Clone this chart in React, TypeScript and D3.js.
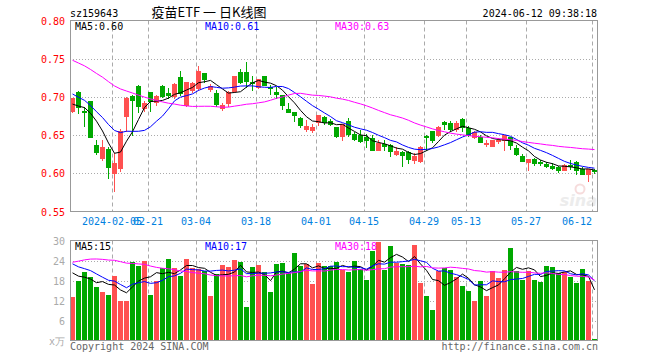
import React from 'react';
import * as d3 from 'd3';

// ---------- data ----------
const dates = [
  '2024-01-25','2024-01-26','2024-01-29','2024-01-30','2024-01-31',
  '2024-02-01','2024-02-02','2024-02-05','2024-02-06','2024-02-07','2024-02-08','2024-02-19','2024-02-20','2024-02-21','2024-02-22','2024-02-23','2024-02-26','2024-02-27','2024-02-28','2024-02-29',
  '2024-03-01','2024-03-04','2024-03-05','2024-03-06','2024-03-07','2024-03-08','2024-03-11','2024-03-12','2024-03-13','2024-03-14','2024-03-15','2024-03-18','2024-03-19','2024-03-20','2024-03-21','2024-03-22','2024-03-25','2024-03-26','2024-03-27','2024-03-28','2024-03-29',
  '2024-04-01','2024-04-02','2024-04-03','2024-04-08','2024-04-09','2024-04-10','2024-04-11','2024-04-12','2024-04-15','2024-04-16','2024-04-17','2024-04-18','2024-04-19','2024-04-22','2024-04-23','2024-04-24','2024-04-25','2024-04-26','2024-04-29','2024-04-30',
  '2024-05-06','2024-05-07','2024-05-08','2024-05-09','2024-05-10','2024-05-13','2024-05-14','2024-05-15','2024-05-16','2024-05-17','2024-05-20','2024-05-21','2024-05-22','2024-05-23','2024-05-24','2024-05-27','2024-05-28','2024-05-29','2024-05-30','2024-05-31',
  '2024-06-03','2024-06-04','2024-06-05','2024-06-06','2024-06-07','2024-06-11','2024-06-12',
];

const openP = [
  0.682,0.707,0.681,0.694,0.637,0.620,0.632,0.600,0.607,0.675,
  0.701,0.714,0.685,0.706,0.693,0.714,0.705,0.701,0.726,0.690,
  0.709,0.711,0.731,0.710,0.705,0.685,0.692,0.708,0.733,0.733,
  0.719,0.713,0.727,0.713,0.706,0.702,0.684,0.680,0.672,0.658,
  0.657,0.667,0.674,0.668,0.660,0.649,0.668,0.651,0.650,0.647,
  0.646,0.631,0.639,0.637,0.625,0.628,0.628,0.618,0.616,0.649,
  0.655,0.650,0.667,0.666,0.658,0.671,0.659,0.648,0.647,0.638,
  0.636,0.642,0.644,0.647,0.633,0.623,0.615,0.619,0.615,0.612,
  0.610,0.608,0.604,0.611,0.615,0.605,0.599,0.604,
];
const highP = [
  0.699,0.708,0.687,0.695,0.643,0.643,0.634,0.626,0.658,0.700,
  0.702,0.715,0.695,0.707,0.702,0.715,0.711,0.718,0.734,0.720,
  0.720,0.741,0.731,0.717,0.709,0.692,0.708,0.728,0.737,0.746,
  0.728,0.723,0.728,0.715,0.713,0.702,0.692,0.680,0.674,0.670,
  0.664,0.676,0.675,0.671,0.661,0.665,0.673,0.654,0.657,0.652,
  0.650,0.644,0.644,0.638,0.635,0.629,0.629,0.626,0.636,0.650,
  0.656,0.662,0.668,0.668,0.668,0.672,0.662,0.656,0.650,0.644,
  0.644,0.646,0.650,0.648,0.637,0.625,0.619,0.620,0.618,0.615,
  0.613,0.609,0.612,0.618,0.616,0.608,0.605,0.605,
];
const lowP = [
  0.680,0.679,0.662,0.647,0.625,0.618,0.594,0.577,0.603,0.655,
  0.650,0.680,0.682,0.681,0.689,0.700,0.699,0.699,0.703,0.688,
  0.706,0.709,0.719,0.708,0.688,0.683,0.688,0.706,0.718,0.713,
  0.709,0.711,0.715,0.704,0.699,0.684,0.680,0.668,0.660,0.655,
  0.654,0.663,0.665,0.663,0.648,0.644,0.649,0.643,0.641,0.635,
  0.630,0.630,0.631,0.622,0.624,0.609,0.614,0.613,0.615,0.631,
  0.641,0.649,0.658,0.656,0.656,0.655,0.649,0.646,0.641,0.636,
  0.636,0.640,0.631,0.632,0.624,0.616,0.604,0.611,0.611,0.608,
  0.605,0.602,0.604,0.606,0.599,0.599,0.590,0.601,
];
const closeP = [
  0.698,0.687,0.680,0.648,0.628,0.634,0.608,0.613,0.656,0.699,
  0.696,0.688,0.692,0.695,0.701,0.701,0.703,0.717,0.705,0.719,
  0.718,0.734,0.723,0.714,0.691,0.690,0.707,0.727,0.719,0.721,
  0.718,0.723,0.716,0.712,0.704,0.689,0.680,0.676,0.663,0.662,
  0.661,0.676,0.667,0.665,0.649,0.664,0.651,0.645,0.642,0.644,
  0.631,0.640,0.636,0.629,0.629,0.624,0.619,0.622,0.635,0.648,
  0.643,0.660,0.664,0.658,0.666,0.660,0.650,0.654,0.641,0.640,
  0.643,0.643,0.650,0.637,0.625,0.616,0.619,0.613,0.614,0.610,
  0.607,0.604,0.611,0.610,0.604,0.599,0.605,0.603,
];
// volume, 10k lots (万)
const volume = [
  13.0,18.0,20.5,19.2,16.0,14.7,13.8,19.5,11.8,11.8,
  23.5,22.5,24.0,13.8,18.0,21.9,24.6,21.9,19.5,24.6,
  21.9,21.5,20.8,13.5,20.0,22.8,22.2,24.2,23.7,10.0,
  22.0,22.8,20.5,14.5,23.0,23.2,20.2,26.2,22.5,23.0,
  17.0,23.2,22.3,22.3,23.5,21.3,20.5,24.0,21.5,18.3,
  27.0,29.5,21.2,28.3,23.2,23.0,22.7,28.8,17.2,13.5,
  9.3,21.0,21.8,21.3,19.0,16.5,14.8,12.0,18.0,13.5,
  21.0,18.8,21.3,27.7,20.8,18.2,21.0,18.2,17.7,22.5,
  22.0,20.2,20.5,19.2,17.2,21.5,17.8,0.3,
];
// closes and volumes of the 29 sessions before the window (used only for the moving averages)
const priorCloses = [
  0.795,0.790,0.790,0.785,0.780,0.785,0.780,0.775,0.780,0.775,
  0.770,0.770,0.765,0.760,0.760,0.755,0.750,0.750,0.745,0.740,
  0.730,0.720,0.715,0.710,0.710,0.700,0.690,0.685,0.680,
];
const priorVolumes = [
  8,9,12,15,18,20,22,24,25,26,
  27,28,29,30,30,29,30,31,30,31,
  27,26,25,26,24.5,23,22,22,21.5,
];

const tickDates = ['2024-02-05','2024-02-21','2024-03-04','2024-03-18','2024-04-01','2024-04-15','2024-04-29','2024-05-13','2024-05-27','2024-06-12'];
const tickLabels = ['2024-02-05','02-21','03-04','03-18','04-01','04-15','04-29','05-13','05-27','06-12'];
const priceTicks = [0.8, 0.75, 0.7, 0.65, 0.6, 0.55];
const volTicks = [30, 24, 18, 12, 6];
const maPeriods = [5, 10, 30];
const maColors = ['#000000', '#0000ff', '#ff00ff'];
const priceMaLegend = ['MA5:0.60', 'MA10:0.61', 'MA30:0.63'];
const volMaLegend = ['MA5:15', 'MA10:17', 'MA30:18'];
const title = '疫苗ETF 一 日K线图';
const code = 'sz159643';
const stamp = '2024-06-12 09:38:18';

// ---------- layout ----------
const W = 660, H = 360;
const L = 70, R = 598;
const PT = 20.5, PB = 211.5;
const VT = 240.5, VB = 340.5;
const UP = '#ff5050';
const DOWN = '#00a800';
const MONO = '"DejaVu Sans Mono", "Liberation Mono", monospace';

function movingAvg(all: number[], prior: number, n: number): number[] {
  const out: number[] = [];
  for (let k = 0; k < all.length - prior; k++) {
    const end = k + prior;
    const slice = all.slice(end - n + 1, end + 1);
    out.push(d3.mean(slice) as number);
  }
  return out;
}

export default function App() {
  const idx = d3.range(dates.length);
  const x = d3.scaleBand<number>().domain(idx).range([L, R]).padding(0);
  const bw = x.bandwidth();
  const cx = (i: number) => (x(i) as number) + (bw - 1) / 2;
  const y = d3.scaleLinear().domain([0.55, 0.8]).range([PB, PT]);
  const yv = d3.scaleLinear().domain([0, 30]).range([VB, VT]);

  const allC = priorCloses.concat(closeP);
  const allV = priorVolumes.concat(volume);
  const priceMA = maPeriods.map((n) => movingAvg(allC, priorCloses.length, n));
  const volMA = maPeriods.map((n) => movingAvg(allV, priorVolumes.length, n));

  const lineP = d3.line<number>().x((_, i) => cx(i)).y((d) => y(d));
  const lineV = d3.line<number>().x((_, i) => cx(i)).y((d) => yv(d));

  const tickIdx = tickDates.map((d) => dates.indexOf(d));

  return (
    <svg width={W} height={H} style={{ position: 'absolute', left: 0, top: 0, background: '#fff' }}>
      <rect x={0} y={0} width={W} height={H} fill="#fff" />
      {/* header */}
      <text x={70} y={17} fontFamily={MONO} fontSize={10} fill="#000">{code}</text>
      <text x={209} y={17} textAnchor="middle" fontFamily='"Noto Sans CJK SC", sans-serif' fontSize={13} fill="#000" style={{ whiteSpace: 'pre' }}>{title}</text>
      <text x={597} y={17} textAnchor="end" fontFamily={MONO} fontSize={10} fill="#000">{stamp}</text>

      {/* watermark */}
      <text x={597} y={206} textAnchor="end" fontFamily='"DejaVu Sans", sans-serif' fontStyle="italic" fontWeight="bold" fontSize={16} fill="#ececec">sina</text>
      <circle cx={580} cy={189} r={4.5} fill="none" stroke="#f6dcdc" strokeWidth={2} />

      {/* price grid */}
      {priceTicks.slice(1, -1).map((t) => (
        <line key={'pg' + t} x1={L} x2={R} y1={Math.round(y(t)) + 0.5} y2={Math.round(y(t)) + 0.5} stroke="#aaa" strokeDasharray="1,2" />
      ))}
      {tickIdx.map((i) => (
        <line key={'vg' + i} x1={(x(i) as number) + 0.5} x2={(x(i) as number) + 0.5} y1={PT} y2={PB} stroke="#aaa" strokeDasharray="4,3" />
      ))}
      {/* volume grid */}
      {volTicks.slice(1).map((t) => (
        <line key={'vgh' + t} x1={L} x2={R} y1={Math.round(yv(t)) + 0.5} y2={Math.round(yv(t)) + 0.5} stroke="#aaa" strokeDasharray="1,2" />
      ))}
      {tickIdx.map((i) => (
        <line key={'vgv' + i} x1={(x(i) as number) + 0.5} x2={(x(i) as number) + 0.5} y1={VT} y2={VB} stroke="#aaa" strokeDasharray="4,3" />
      ))}

      {/* candles */}
      <g shapeRendering="crispEdges">
        {idx.map((i) => {
          const o = openP[i], c = closeP[i];
          const up = c >= o;
          const col = up ? UP : DOWN;
          const top = Math.round(y(Math.max(o, c)));
          const bot = Math.round(y(Math.min(o, c)));
          const hi = Math.round(y(highP[i]));
          const lo = Math.round(y(lowP[i]));
          const xl = x(i) as number;
          return (
            <g key={'c' + i}>
              <rect x={xl + 2} y={hi} width={1} height={Math.max(1, lo - hi + 1)} fill={col} />
              <rect x={xl} y={top} width={bw - 1} height={Math.max(1, bot - top + 1)} fill={col} />
            </g>
          );
        })}
      </g>
      {/* price MAs */}
      {priceMA.map((s, j) => (
        <path key={'pma' + j} d={lineP(s) as string} fill="none" stroke={maColors[j]} strokeWidth={1} />
      ))}

      {/* volume bars */}
      <g shapeRendering="crispEdges">
        {idx.map((i) => {
          const up = closeP[i] >= openP[i];
          const top = Math.round(yv(volume[i]));
          return (
            <rect key={'v' + i} x={x(i) as number} y={top} width={bw - 1} height={Math.max(1, Math.round(VB) - top)} fill={up ? UP : DOWN} />
          );
        })}
      </g>
      {volMA.map((s, j) => (
        <path key={'vma' + j} d={lineV(s) as string} fill="none" stroke={maColors[j]} strokeWidth={1} />
      ))}

      {/* panel borders */}
      <rect x={L + 0.5} y={PT} width={R - L - 1} height={PB - PT} fill="none" stroke="#999" shapeRendering="crispEdges" />
      <rect x={L + 0.5} y={VT} width={R - L - 1} height={VB - VT} fill="none" stroke="#999" shapeRendering="crispEdges" />

      {/* MA legends */}
      {priceMaLegend.map((t, j) => (
        <text key={'pl' + j} x={75 + j * 130} y={30} fontFamily={MONO} fontSize={10} fill={maColors[j]}>{t}</text>
      ))}
      {volMaLegend.map((t, j) => (
        <text key={'vl' + j} x={75 + j * 130} y={250} fontFamily={MONO} fontSize={10} fill={maColors[j]}>{t}</text>
      ))}

      {/* price axis labels */}
      {priceTicks.map((t) => (
        <text key={'pt' + t} x={65} y={y(t) + 4} textAnchor="end" fontFamily={MONO} fontSize={10} fill="#ff0000">{t.toFixed(2)}</text>
      ))}
      {/* volume axis labels */}
      {volTicks.map((t) => (
        <text key={'vt' + t} x={65} y={yv(t) + 4} textAnchor="end" fontFamily={MONO} fontSize={10} fill="#aaa">{t}</text>
      ))}
      <text x={65} y={VB + 4} textAnchor="end" fontFamily={MONO} fontSize={10} fill="#aaa">x万</text>

      {/* date labels */}
      {tickIdx.map((i, j) => {
        const gx = x(i) as number;
        const w = tickLabels[j].length * 6;
        const anchorEnd = gx + w / 2 > R;
        return (
          <text key={'dl' + j} x={gx} y={225} textAnchor={anchorEnd ? 'end' : 'middle'} fontFamily={MONO} fontSize={10} fill="#0080e0">{tickLabels[j]}</text>
        );
      })}

      {/* footer */}
      <text x={70} y={350} fontFamily={MONO} fontSize={10} fill="#666">Copyright 2024 SINA.COM</text>
      <text x={598} y={350} textAnchor="end" fontFamily={MONO} fontSize={10} fill="#666">http://finance.sina.com.cn</text>
    </svg>
  );
}
